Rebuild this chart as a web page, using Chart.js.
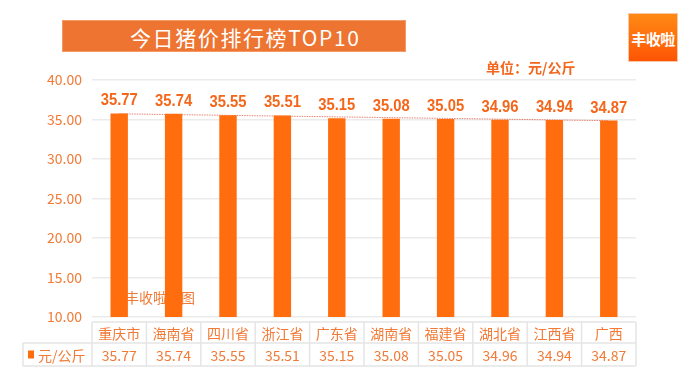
<!DOCTYPE html>
<html>
<head>
<meta charset="utf-8">
<script src="https://cdn.jsdelivr.net/npm/chart.js@4.4.1/dist/chart.umd.min.js"></script>
<style>
    html, body { margin: 0; padding: 0; background: #fff; }
    #wrap { position: relative; width: 692px; height: 389px; overflow: hidden; font-family: "Noto Sans CJK SC", sans-serif; }
    #chart { position: absolute; left: 0; top: 0; }
    #title {
        position: absolute; left: 62px; top: 20px; width: 344px; height: 32px;
        background: #ee7431; color: #fff; font-size: 21px; line-height: 32px;
        box-sizing: border-box; padding-left: 67px; letter-spacing: 1.6px;
        border: 1px solid #f59a66;
    }
    #logo {
        position: absolute; left: 628px; top: 13px; width: 50px; height: 49px;
        background: linear-gradient(#ff8a14, #ff5405); color: #fff;
        font-size: 15px; font-weight: bold; line-height: 49px; text-align: center;
        border: 1px solid #f6c9a8; box-sizing: border-box; letter-spacing: -0.5px;
    }
    #unit {
        position: absolute; left: 486px; top: 57px; font-size: 14px; font-weight: bold;
        color: #f2681f; line-height: 20px;
    }
</style>
</head>
<body>
<div id="wrap">
    <canvas id="chart" width="692" height="389"></canvas>
    <div id="title">今日猪价排行榜TOP10</div>
    <div id="logo">丰收啦</div>
    <div id="unit">单位：元/公斤</div>
</div>
<script>
// Chart data
const provinces = ['重庆市', '海南省', '四川省', '浙江省', '广东省', '湖南省', '福建省', '湖北省', '江西省', '广西'];
const prices = [35.77, 35.74, 35.55, 35.51, 35.15, 35.08, 35.05, 34.96, 34.94, 34.87];
// dotted trend line at first and last category
const trendLine = [35.72, null, null, null, null, null, null, null, null, 34.85];
const yTicks = [10, 15, 20, 25, 30, 35, 40];
const seriesName = '元/公斤';

const orange = '#ff6d0e';
const textOrange = '#f27a36';
const cjkFont = '"Noto Sans CJK SC", sans-serif';

// Value labels above bars (squeezed a little, the source font is narrow)
const valueLabels = {
    id: 'valueLabels',
    afterDatasetsDraw(chart) {
        const ctx = chart.ctx;
        const meta = chart.getDatasetMeta(0);
        ctx.save();
        ctx.fillStyle = '#f4661a';
        ctx.font = 'bold 17px "Liberation Sans", sans-serif';
        ctx.textAlign = 'center';
        ctx.textBaseline = 'alphabetic';
        meta.data.forEach((bar, i) => {
            ctx.fillText(prices[i].toFixed(2), bar.x, bar.y - 8, 37);
        });
        ctx.restore();
    }
};

// Watermark behind the bars
const watermark = {
    id: 'watermark',
    beforeDatasetsDraw(chart) {
        const ctx = chart.ctx;
        ctx.save();
        ctx.fillStyle = '#f07a35';
        ctx.font = '14px ' + cjkFont;
        ctx.textBaseline = 'middle';
        ctx.fillText('丰收啦制图', 125, 298);
        ctx.restore();
    }
};

// Data table under the plot
const dataTable = {
    id: 'dataTable',
    afterDraw(chart) {
        const ctx = chart.ctx;
        const x = chart.scales.x;
        const area = chart.chartArea;
        const row1 = area.bottom + 5, row2 = row1 + 21, row3 = row2 + 23;
        const legendLeft = 23;
        const step = (area.right - area.left) / provinces.length;
        ctx.save();
        ctx.strokeStyle = '#e5e5e5';
        ctx.lineWidth = 1.5;
        ctx.beginPath();
        ctx.moveTo(area.left, row1); ctx.lineTo(area.right, row1);
        ctx.moveTo(legendLeft, row2); ctx.lineTo(area.right, row2);
        ctx.moveTo(legendLeft, row3); ctx.lineTo(area.right, row3);
        ctx.moveTo(legendLeft, row2); ctx.lineTo(legendLeft, row3);
        for (let i = 0; i <= provinces.length; i++) {
            const gx = area.left + i * step;
            ctx.moveTo(gx, row1); ctx.lineTo(gx, row3);
        }
        ctx.stroke();

        ctx.fillStyle = textOrange;
        ctx.font = '14px ' + cjkFont;
        ctx.textAlign = 'center';
        ctx.textBaseline = 'middle';
        provinces.forEach((p, i) => {
            const cx = x.getPixelForValue(i);
            ctx.fillText(p, cx, (row1 + row2) / 2 + 1);
            ctx.fillText(prices[i].toFixed(2), cx, (row2 + row3) / 2 + 1);
        });

        // legend cell
        ctx.fillStyle = orange;
        ctx.fillRect(28, (row2 + row3) / 2 - 4, 6, 8);
        ctx.fillStyle = textOrange;
        ctx.textAlign = 'left';
        ctx.fillText(seriesName, 38, (row2 + row3) / 2 + 1);
        ctx.restore();
    }
};

new Chart(document.getElementById('chart').getContext('2d'), {
    type: 'bar',
    data: {
        labels: provinces,
        datasets: [
            {
                label: seriesName,
                data: prices,
                backgroundColor: orange,
                barPercentage: 0.32,
                categoryPercentage: 1,
                order: 0
            },
            {
                type: 'line',
                label: 'trend',
                data: trendLine,
                spanGaps: true,
                borderColor: 'rgba(225, 90, 70, 0.75)',
                borderWidth: 1,
                borderDash: [1.5, 1],
                pointRadius: 0,
                fill: false,
                order: 1
            }
        ]
    },
    options: {
        responsive: false,
        animation: false,
        layout: { padding: { top: 80, bottom: 72, left: 0, right: 56 } },
        plugins: {
            legend: { display: false },
            tooltip: { enabled: false }
        },
        scales: {
            x: { display: false },
            y: {
                min: 10,
                max: 40,
                afterFit: s => { s.width = 92; },
                afterBuildTicks: s => { s.ticks = yTicks.map(v => ({ value: v })); },
                border: { display: false },
                grid: { color: '#ebebeb', lineWidth: 1.5, drawTicks: false },
                ticks: {
                    padding: 10,
                    color: textOrange,
                    font: { family: cjkFont, size: 14 },
                    callback: v => v.toFixed(2)
                }
            }
        }
    },
    plugins: [watermark, valueLabels, dataTable]
});
</script>
</body>
</html>
